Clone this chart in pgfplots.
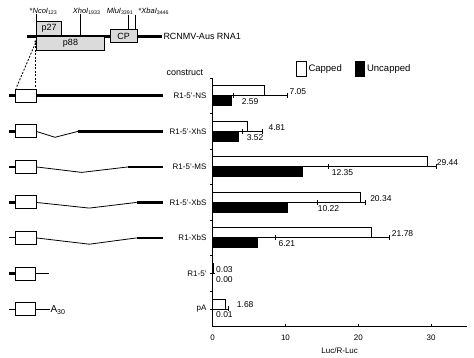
\documentclass[border=0pt]{standalone}
\usepackage{fontspec}
\setmainfont{Liberation Sans}
\usepackage{pgfplots}
\pgfplotsset{compat=1.18}
\definecolor{boxgray}{gray}{0.86}
\begin{document}
\begin{tikzpicture}
\useasboundingbox (0,0) rectangle (474pt,358pt);
\begin{scope}[x=1pt,y=-1pt,yshift=358pt]
  % genome map
  \draw[line width=2.4pt] (26.7,36.7)--(161.7,36.7);
  \draw[line width=0.8pt, fill=boxgray] (36.7,36.7) rectangle (104.3,50);
  \node[font=\fontsize{9}{10}\selectfont] at (70.5,43.5) {p88};
  \draw[line width=0.8pt, fill=boxgray] (36.7,21.7) rectangle (61.7,35);
  \node[font=\fontsize{9}{10}\selectfont] at (49.2,28.4) {p27};
  \draw[line width=0.8pt, fill=boxgray] (110,29.3) rectangle (137.3,42.7);
  \node[font=\fontsize{9}{10}\selectfont] at (123.6,36) {CP};
  \draw[line width=0.8pt] (36.7,14)--(36.7,21.7);
  \draw[line width=0.8pt] (80,14)--(80,35.5);
  \draw[line width=0.8pt] (128.3,15)--(128.3,29.3);
  \draw[line width=0.8pt] (135.7,15)--(135.7,29.3);
  \begin{scope}[every node/.style={anchor=west, inner sep=0pt, font=\fontsize{7.5}{9}\selectfont}]
    \node at (29.5,11.5) {*\textit{NcoI}\textsubscript{123}};
    \node at (72.7,11.5) {\textit{XhoI}\textsubscript{1933}};
    \node at (106.7,11.5) {\textit{MluI}\textsubscript{3391}};
    \node at (138.3,11.5) {*\textit{XbaI}\textsubscript{3446}};
  \end{scope}
  \node[anchor=west, inner sep=0pt, font=\fontsize{9}{10}\selectfont] at (163.3,36.7) {RCNMV-Aus RNA1};
  \fill (35.5,41.5) circle (1.2pt);
  \draw[dash pattern=on 2pt off 1.5pt, line width=0.8pt] (35.5,43)--(16,88.5);
  \draw[dash pattern=on 2pt off 1.5pt, line width=0.8pt] (35.5,43)--(35.5,88.5);
  % constructs
  % row 1 NS
  \draw[line width=2.6pt] (9,95.8)--(15.5,95.8);
  \draw[line width=2.6pt] (36,95.8)--(163.3,95.8);
  \draw[line width=0.8pt, fill=white] (15.5,89.3) rectangle (36,102.3);
  % row 2 XhS
  \draw[line width=2.6pt] (9,131.3)--(15.5,131.3);
  \draw[line width=0.8pt] (36,131.3)--(55,137.3)--(78.3,131.3);
  \draw[line width=2.6pt] (78.3,131.3)--(163.3,131.3);
  \draw[line width=0.8pt, fill=white] (15.5,124.8) rectangle (36,137.8);
  % row 3 MS
  \draw[line width=2.6pt] (9,166.9)--(15.5,166.9);
  \draw[line width=0.8pt] (36,166.9)--(81.7,172.4)--(128.3,166.9);
  \draw[line width=2.6pt] (128.3,166.9)--(163.3,166.9);
  \draw[line width=0.8pt, fill=white] (15.5,160.4) rectangle (36,173.4);
  % row 4 XbS
  \draw[line width=2.6pt] (9,202.4)--(15.5,202.4);
  \draw[line width=0.8pt] (36,202.4)--(89.3,208.1)--(136.7,202.4);
  \draw[line width=2.6pt] (136.7,202.4)--(163.3,202.4);
  \draw[line width=0.8pt, fill=white] (15.5,195.9) rectangle (36,208.9);
  % row 5 R1-XbS
  \draw[line width=0.8pt] (9,237.9)--(15.5,237.9);
  \draw[line width=0.8pt] (36,237.9)--(89.3,244.2)--(136.7,237.9);
  \draw[line width=2.6pt] (136.7,237.9)--(163.3,237.9);
  \draw[line width=0.8pt, fill=white] (15.5,231.4) rectangle (36,244.4);
  % row 6 R1-5'
  \draw[line width=2.6pt] (9,273.5)--(15.5,273.5);
  \draw[line width=0.8pt] (35,273.5)--(49.3,273.5);
  \draw[line width=0.8pt, fill=white] (15.5,267) rectangle (35,280);
  % row 7 pA
  \draw[line width=0.8pt] (9,309)--(15.5,309);
  \draw[line width=0.8pt] (35,309)--(50,309);
  \draw[line width=0.8pt, fill=white] (15.5,302.5) rectangle (35,315.5);
  \node[anchor=west, inner sep=0pt, font=\fontsize{10}{11}\selectfont] at (50.3,310) {A\textsubscript{30}};
  % construct header
  \node[anchor=base east, inner sep=0pt, font=\fontsize{9}{10}\selectfont] at (203.3,75.5) {construct};
\end{scope}
\begin{axis}[
  at={(212.7pt,31.3pt)}, anchor=south west, scale only axis,
  width=254pt, height=248.7pt,
  xmin=0, xmax=34.9, ymin=-0.5, ymax=6.5,
  axis lines*=left, axis line style={line width=0.8pt},
  tick align=inside, major tick length=2.5pt,
  tick style={line width=0.8pt, black},
  y tick style={xshift=-2.5pt},
  xtick={0,10,20,30},
  ytick={0.5,1.5,2.5,3.5,4.5,5.5,6.5},
  yticklabels={pA, R1-5', R1-XbS, R1-5'-XbS, R1-5'-MS, R1-5'-XhS, R1-5'-NS},
  yticklabel style={inner sep=0pt, xshift=-6pt, yshift=-17.77pt, font=\fontsize{8}{9}\selectfont},
  xticklabel style={font=\fontsize{8}{9}\selectfont, yshift=-5pt},
  /pgf/number format/assume math mode=true,
  xlabel={Luc/R-Luc}, xlabel style={font=\fontsize{8}{9}\selectfont},
  legend columns=2,
  legend style={draw=none, fill=none, inner sep=0pt, at={(0.328,1.036)}, anchor=west,
    font=\fontsize{9.5}{11}\selectfont,
    /tikz/every even column/.append style={column sep=11pt}},
  legend cell align=left,
  clip=false,
]
% Capped (rows: 6 = R1-5'-NS ... 0 = pA)
\addplot[xbar, bar width=10pt, bar shift=5pt, fill=white, draw=black, line width=0.8pt,
  legend image code/.code={\draw[line width=0.8pt, draw=black, fill=white] (0pt,-7.5pt) rectangle (9.5pt,7.5pt);},
  error bars/.cd, x dir=plus, x explicit, error mark=|,
  error bar style={line width=0.8pt}, error mark options={mark size=2.5pt, line width=0.8pt}]
coordinates {
  (7.05,6) +- (3.2,0)
  (4.81,5) +- (2.0,0)
  (29.44,4) +- (1.3,0)
  (20.34,3) +- (0.7,0)
  (21.78,2) +- (2.5,0)
  (0.03,1) +- (0,0)
  (1.68,0) +- (0.5,0)
};
\addlegendentry{Capped}
% Uncapped
\addplot[xbar, bar width=10pt, bar shift=-5pt, fill=black, draw=black, line width=0.8pt,
  legend image code/.code={\draw[line width=0.8pt, draw=black, fill=black] (0pt,-7.5pt) rectangle (9.5pt,7.5pt);},
  error bars/.cd, x dir=plus, x explicit, error mark=|,
  error bar style={line width=0.8pt}, error mark options={mark size=2.5pt, line width=0.8pt}]
coordinates {
  (2.59,6) +- (0.3,0)
  (3.52,5) +- (0.6,0)
  (12.35,4) +- (3.5,0)
  (10.22,3) +- (4.1,0)
  (6.21,2) +- (2.4,0)
  (0.00,1) +- (0,0)
  (0.01,0) +- (0,0)
};
\addlegendentry{Uncapped}
% value labels (placed just right of the error bars)
\addplot[forget plot, scatter, only marks, mark=*, mark size=0pt, mark options={draw=none, fill=none},
  point meta=explicit symbolic,
  scatter/@pre marker code/.code={\node[anchor=west, inner sep=0pt, yshift=-0.8pt, text=black, font=\fontsize{8.5}{10}\selectfont] at (0pt,0pt) {\pgfplotspointmeta};},
  scatter/@post marker code/.code={}]
coordinates {
  (10.53,6.141) [7.05]
  (7.65,5.141) [4.81]
  (30.78,4.141) [29.44]
  (21.62,3.141) [20.34]
  (24.6,2.141) [21.78]
  (0.45,1.141) [0.03]
  (3.3,0.141) [1.68]
  (3.98,5.859) [2.59]
  (4.67,4.859) [3.52]
  (16.35,3.859) [12.35]
  (14.43,2.859) [10.22]
  (9.02,1.859) [6.21]
  (0.45,0.859) [0.00]
  (0.45,-0.141) [0.01]
};
\end{axis}
\end{tikzpicture}
\end{document}
